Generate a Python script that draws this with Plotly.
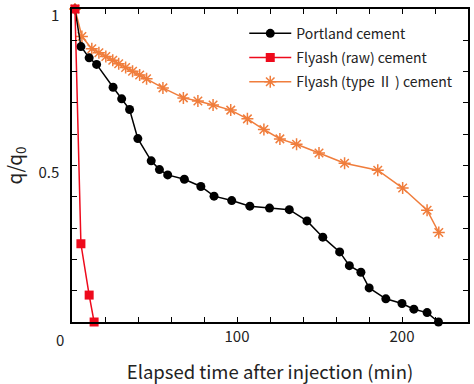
import plotly.graph_objects as go

# Portland cement
portland_t = [1.8, 5.4, 10.4, 14.9, 24.9, 30.1, 34.9, 39.9, 48.0, 53.0, 58.0, 68.1, 78.1, 86.1,
              96.8, 107.8, 119.7, 131.7, 142.4, 152.0, 162.2, 168.1, 175.1, 180.1, 190.2,
              200.0, 207.2, 215.2, 222.1]
portland_q = [1.0, 0.880, 0.844, 0.823, 0.750, 0.713, 0.679, 0.586, 0.515, 0.487, 0.470, 0.456,
              0.433, 0.402, 0.388, 0.370, 0.364, 0.359, 0.323, 0.271, 0.224, 0.180, 0.159,
              0.109, 0.074, 0.059, 0.041, 0.030, 0.0]

# Flyash (raw) cement
raw_t = [1.8, 5.4, 10.4, 13.4]
raw_q = [1.0, 0.25, 0.086, 0.0]

# Flyash (type II) cement
type2_t = [1.8, 6.0, 12.0, 16.3, 20.5, 24.7, 28.3, 32.5, 36.7, 41.0, 45.2, 55.1, 67.5, 76.3,
           85.5, 96.2, 106.3, 116.3, 126.0, 136.1, 149.7, 165.2, 185.3, 200.4, 215.2, 222.3]
type2_q = [1.0, 0.912, 0.873, 0.860, 0.848, 0.836, 0.825, 0.813, 0.801, 0.789, 0.777, 0.748,
           0.716, 0.706, 0.693, 0.677, 0.649, 0.615, 0.585, 0.568, 0.540, 0.507, 0.485, 0.428,
           0.357, 0.286]

x_tickvals = list(range(0, 241, 20))
x_ticktext = ["" if v not in (100, 200) else str(v) for v in x_tickvals]
y_tickvals = [round(i * 0.1, 1) for i in range(11)]
y_labels = {0.5: "0.5", 1.0: "1"}
y_ticktext = [y_labels.get(v, "") for v in y_tickvals]

FONT = "Noto Sans CJK JP"
BLACK = "#000000"
RED = "#EE0A1C"
ORANGE = "#F07D3C"
TXT = "#222222"

fig = go.Figure()
fig.add_trace(go.Scatter(x=type2_t, y=type2_q, mode="lines+markers", name="Flyash (type Ⅱ ) cement",
                         legendrank=3, legendgroup="c",
                         line=dict(color=ORANGE, width=1.5),
                         marker=dict(symbol="asterisk-open", size=10,
                                     line=dict(color=ORANGE, width=1.5)), cliponaxis=False))
fig.add_trace(go.Scatter(x=portland_t, y=portland_q, mode="lines+markers", name="Portland cement",
                         legendrank=1, legendgroup="a",
                         line=dict(color=BLACK, width=1.5),
                         marker=dict(symbol="circle", size=9, color=BLACK), cliponaxis=False))
fig.add_trace(go.Scatter(x=raw_t, y=raw_q, mode="lines+markers", name="Flyash (raw) cement",
                         legendrank=2, legendgroup="b",
                         line=dict(color=RED, width=1.5),
                         marker=dict(symbol="square", size=9, color=RED), cliponaxis=False))

axis_common = dict(showgrid=False, zeroline=False, showline=True, linecolor=BLACK, linewidth=1.5,
                   mirror="ticks", ticks="inside", ticklen=5, tickwidth=1, tickcolor=BLACK,
                   tickfont=dict(family=FONT, size=15, color=TXT))

fig.update_xaxes(range=[0, 240], tickmode="array", tickvals=x_tickvals, ticktext=x_ticktext,
                 title=dict(text="Elapsed time after injection (min)",
                            font=dict(family=FONT, size=18.5, color=TXT), standoff=21),
                 **axis_common)
fig.update_yaxes(range=[0, 1.0], tickmode="array", tickvals=y_tickvals, ticktext=y_ticktext,
                 ticklabelshift=7, ticklabelstandoff=8,
                 title=dict(text="q/q<sub>0</sub>", font=dict(family=FONT, size=19, color=TXT),
                            standoff=12),
                 **axis_common)

fig.add_annotation(x=0, y=0, xref="x", yref="y", text="0", showarrow=False,
                   xshift=-12, yshift=-17, font=dict(family=FONT, size=15, color=TXT))

fig.update_layout(
    width=474, height=384,
    margin=dict(l=72, r=4, t=6, b=58),
    paper_bgcolor="white", plot_bgcolor="white",
    showlegend=True,
    legend=dict(x=0.435, y=0.972, xanchor="left", yanchor="top", bgcolor="rgba(0,0,0,0)",
                font=dict(family=FONT, size=14, color=TXT), tracegroupgap=3, itemwidth=42),
)

fig.write_html("out.html", config={"displayModeBar": False},
               post_script="document.body.style.margin='0px';")
